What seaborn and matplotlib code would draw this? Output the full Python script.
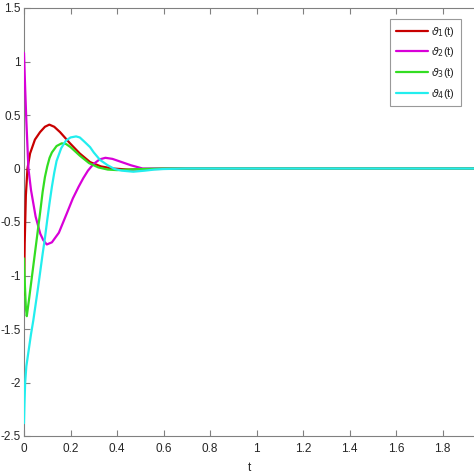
import numpy as np
import pandas as pd
import matplotlib
matplotlib.use("Agg")
import matplotlib.pyplot as plt
import seaborn as sns

# values
t1 = [0, 0.003, 0.008, 0.015, 0.026, 0.047, 0.069, 0.09, 0.109, 0.13, 0.155, 0.198, 0.24, 0.284, 0.33, 0.38, 0.45, 0.55, 0.7, 2.0]
v1 = [-1.18, -0.7, -0.25, 0.0, 0.14, 0.27, 0.34, 0.39, 0.41, 0.39, 0.34, 0.235, 0.14, 0.06, 0.02, 0.0, -0.01, -0.005, 0, 0]

t2 = [0, 0.005, 0.01, 0.019, 0.03, 0.05, 0.07, 0.083, 0.098, 0.12, 0.15, 0.184, 0.21, 0.235, 0.255, 0.275, 0.298, 0.325, 0.35, 0.38, 0.42, 0.46, 0.51, 0.6, 2.0]
v2 = [1.08, 0.75, 0.45, 0.0, -0.2, -0.45, -0.61, -0.67, -0.71, -0.69, -0.6, -0.42, -0.28, -0.17, -0.09, -0.02, 0.04, 0.085, 0.1, 0.09, 0.06, 0.03, 0.0, 0, 0]

t3 = [0, 0.004, 0.008, 0.012, 0.02, 0.03, 0.04, 0.05, 0.06, 0.07, 0.08, 0.09, 0.1, 0.11, 0.12, 0.14, 0.162, 0.18, 0.2, 0.24, 0.28, 0.32, 0.36, 0.4, 0.45, 0.5, 0.6, 0.7, 2.0]
v3 = [-0.84, -1.1, -1.3, -1.38, -1.25, -1.08, -0.91, -0.74, -0.57, -0.4, -0.22, -0.08, 0.02, 0.1, 0.15, 0.21, 0.235, 0.23, 0.2, 0.12, 0.05, 0.01, -0.01, -0.015, -0.01, -0.005, 0, 0, 0]

t4 = [0, 0.002, 0.005, 0.01, 0.02, 0.03, 0.04, 0.05, 0.06, 0.07, 0.08, 0.09, 0.1, 0.11, 0.12, 0.13, 0.14, 0.16, 0.18, 0.2, 0.224, 0.24, 0.26, 0.284, 0.3, 0.327, 0.36, 0.39, 0.42, 0.47, 0.52, 0.56, 0.6, 0.7, 2.0]
v4 = [-2.38, -2.2, -2.0, -1.85, -1.7, -1.55, -1.42, -1.27, -1.12, -0.96, -0.8, -0.65, -0.48, -0.32, -0.17, -0.04, 0.07, 0.19, 0.26, 0.29, 0.3, 0.29, 0.25, 0.2, 0.15, 0.08, 0.03, -0.005, -0.02, -0.03, -0.02, -0.01, -0.005, 0, 0]

labels = [r"$\vartheta_1$(t)", r"$\vartheta_2$(t)", r"$\vartheta_3$(t)", r"$\vartheta_4$(t)"]
colors = ["#c80000", "#d800d8", "#33dd22", "#22eeee"]
xticks = ['0', '0.2', '0.4', '0.6', '0.8', '1', '1.2', '1.4', '1.6', '1.8']
yticks = ['-2.5', '-2', '-1.5', '-1', '-0.5', '0', '0.5', '1', '1.5']

series = [(t1, v1), (t2, v2), (t3, v3), (t4, v4)]

sns.set_style("white")
plt.rcParams['font.family'] = ['Liberation Sans', 'DejaVu Sans']
plt.rcParams['mathtext.fontset'] = 'dejavusans'

fig = plt.figure(figsize=(4.74, 4.74), dpi=100)
ax = fig.add_axes([24 / 474, 38 / 474, 1 - 24 / 474, (436 - 8) / 474])

for (tt, vv), lab, col in zip(series, labels, colors):
    df = pd.DataFrame({'t': tt, 'v': vv})
    sns.lineplot(data=df, x='t', y='v', ax=ax, color=col, linewidth=1.6,
                 label=lab, sort=False, estimator=None, zorder=3)

ax.set_xlim(0, 1.935)
ax.set_ylim(-2.5, 1.5)
ax.set_xticks(np.arange(0, 1.81, 0.2))
ax.set_xticklabels(xticks)
ax.set_yticks(np.arange(-2.5, 1.51, 0.5))
ax.set_yticklabels(yticks)
ax.set_xlabel('t', fontsize=8.5, color='#262626', labelpad=5)
ax.set_ylabel('')
ax.tick_params(direction='in', length=4, width=0.8, color='#808080', pad=2.5,
               labelsize=8.5, labelcolor='#262626', top=True, bottom=True, left=True, right=False)
ax.tick_params(axis='x', pad=5)
for side in ['left', 'bottom', 'top']:
    ax.spines[side].set_color('#808080')
    ax.spines[side].set_linewidth(0.8)
ax.spines['right'].set_visible(False)

leg = ax.legend(loc='upper right', bbox_to_anchor=(461 / 474, 1 - 19 / 474), bbox_transform=fig.transFigure,
                fontsize=8, frameon=True, fancybox=False, handlelength=2.9, handletextpad=0.3,
                labelspacing=0.6, borderpad=0.5, borderaxespad=0)
leg.get_frame().set_edgecolor('#808080')
leg.get_frame().set_linewidth(0.8)

fig.savefig('out.png', dpi=100)
